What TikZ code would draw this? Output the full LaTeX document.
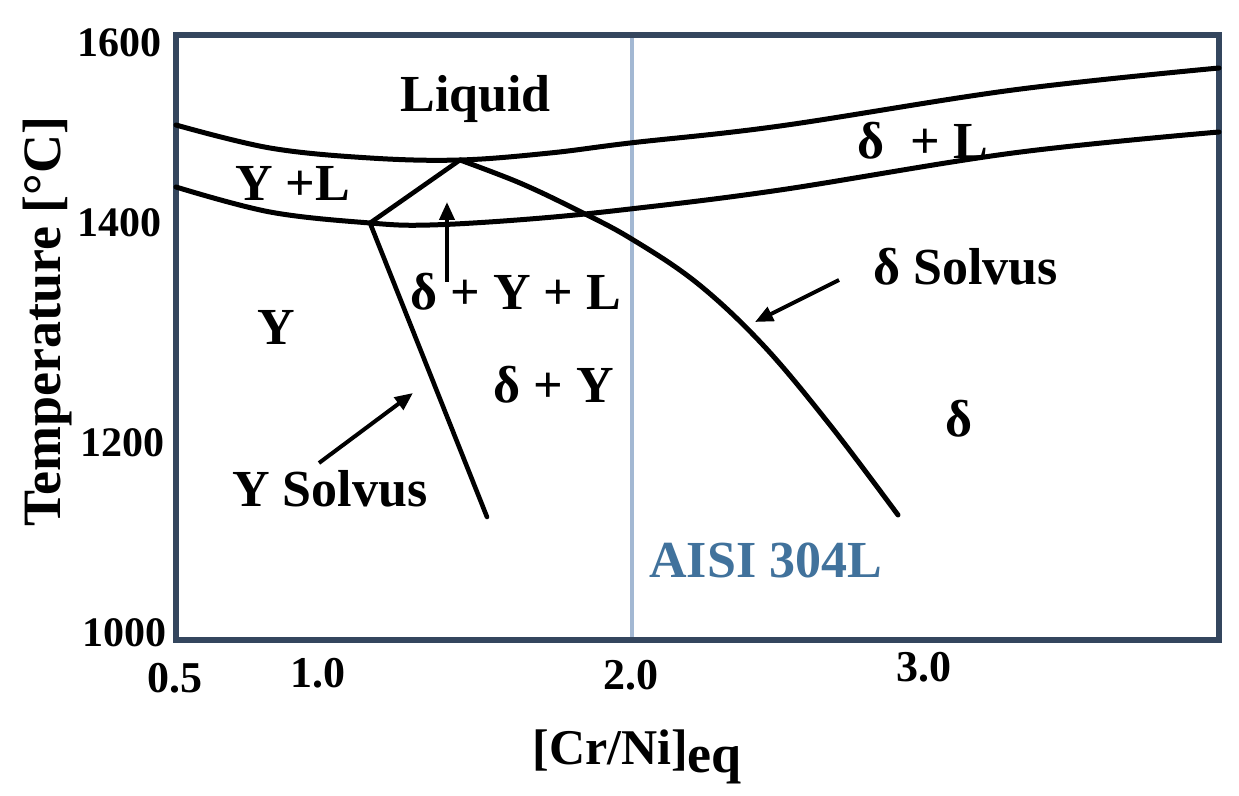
\documentclass[tikz,border=0pt]{standalone}
\usepackage{fontspec}
\setmainfont{Liberation Serif}
\usetikzlibrary{arrows.meta}
\definecolor{framec}{HTML}{34465E}
\definecolor{vlinec}{HTML}{A3B8D3}
\definecolor{aisic}{HTML}{41729C}
\begin{document}
\begin{tikzpicture}[x=0.5pt,y=-0.5pt,
  curve/.style={line width=2.5pt, line join=round, line cap=round},
  arr/.style={line width=2pt, -{Triangle[length=9pt,width=7.5pt]}},
  lab/.style={font=\fontsize{26}{30}\selectfont\bfseries, inner sep=0pt, anchor=base west},
  ytick/.style={font=\fontsize{21}{24}\selectfont\bfseries, inner sep=0pt, anchor=base east},
  xtick/.style={font=\fontsize{22}{25}\selectfont\bfseries, inner sep=0pt, anchor=base west}]
\useasboundingbox (0,0) rectangle (1239,796);
\fill[white] (0,0) rectangle (1239,796);

% reference line AISI 304L
\draw[vlinec, line width=1.6pt] (632,35) -- (632,640);

% frame
\draw[framec, line width=2.8pt] (176,35) rectangle (1219,640);

% liquidus and solidus
\draw[curve] plot[smooth, tension=0.6] coordinates {(176,125) (270,148) (370,158) (460,160) (550,153) (630,143) (780,126) (1013,90) (1219,68)};
\draw[curve] plot[smooth, tension=0.6] coordinates {(176,187) (270,212) (370,223) (430,225) (530,219) (630,209) (780,190) (1013,153) (1219,132)};

% key points
\coordinate (peak) at (460,160);
\coordinate (tri) at (370,223);
\coordinate (gend) at (487,517);

% delta solvus
\draw[curve] plot[smooth, tension=0.6] coordinates {(460,160) (520,183) (577,210) (630,238) (697,283) (763,345) (830,425) (898,515)};
% triangle and gamma solvus
\draw[curve, line width=2.3pt] (peak) -- (tri) -- (gend);

% arrows
\coordinate (a1s) at (447,282); \coordinate (a1e) at (447,202);
\coordinate (a2s) at (319,463); \coordinate (a2e) at (413,393);
\coordinate (a3s) at (839,280); \coordinate (a3e) at (755,322);
\draw[arr] (a1s) -- (a1e);
\draw[arr] (a2s) -- (a2e);
\draw[arr] (a3s) -- (a3e);

% region labels
\node[lab] (liq) at (400,112) {Liquid};
\node[lab] (gl) at (235,201) {Y +L};
\node[lab] (dgl) at (410,310) {δ + Y + L};
\node[lab] (dg) at (493,403) {δ + Y};
\node[lab] (g) at (257,345) {Y};
\node[lab] (gs) at (232,507) {Y Solvus};
\node[lab] (ds) at (873,285) {δ Solvus};
\node[lab] (dl) at (857,159) {δ\ \ + L};
\node[lab] (d) at (945,437) {δ};
\node[lab, text=aisic] (aisi) at (649,578) {AISI 304L};

% ticks
\node[ytick] (t1600) at (162,57) {1600};
\node[ytick] (t1400) at (162,237) {1400};
\node[ytick] (t1200) at (165,457) {1200};
\node[ytick] (t1000) at (167,647) {1000};
\node[xtick] (x05) at (147,693) {0.5};
\node[xtick] (x10) at (290,688) {1.0};
\node[xtick] (x20) at (603,690) {2.0};
\node[xtick] (x30) at (896,682) {3.0};

% axis titles
\node[font=\fontsize{27}{30}\selectfont\bfseries, inner sep=0pt, anchor=base west, rotate=90] (ylab) at (61,527) {Temperature [°C]};
\node[font=\fontsize{25}{30}\selectfont\bfseries, inner sep=0pt, anchor=base west] (xlab) at (532,765) {[Cr/Ni]\raisebox{-4pt}{\fontsize{27}{30}\selectfont eq}};
\end{tikzpicture}
\end{document}
